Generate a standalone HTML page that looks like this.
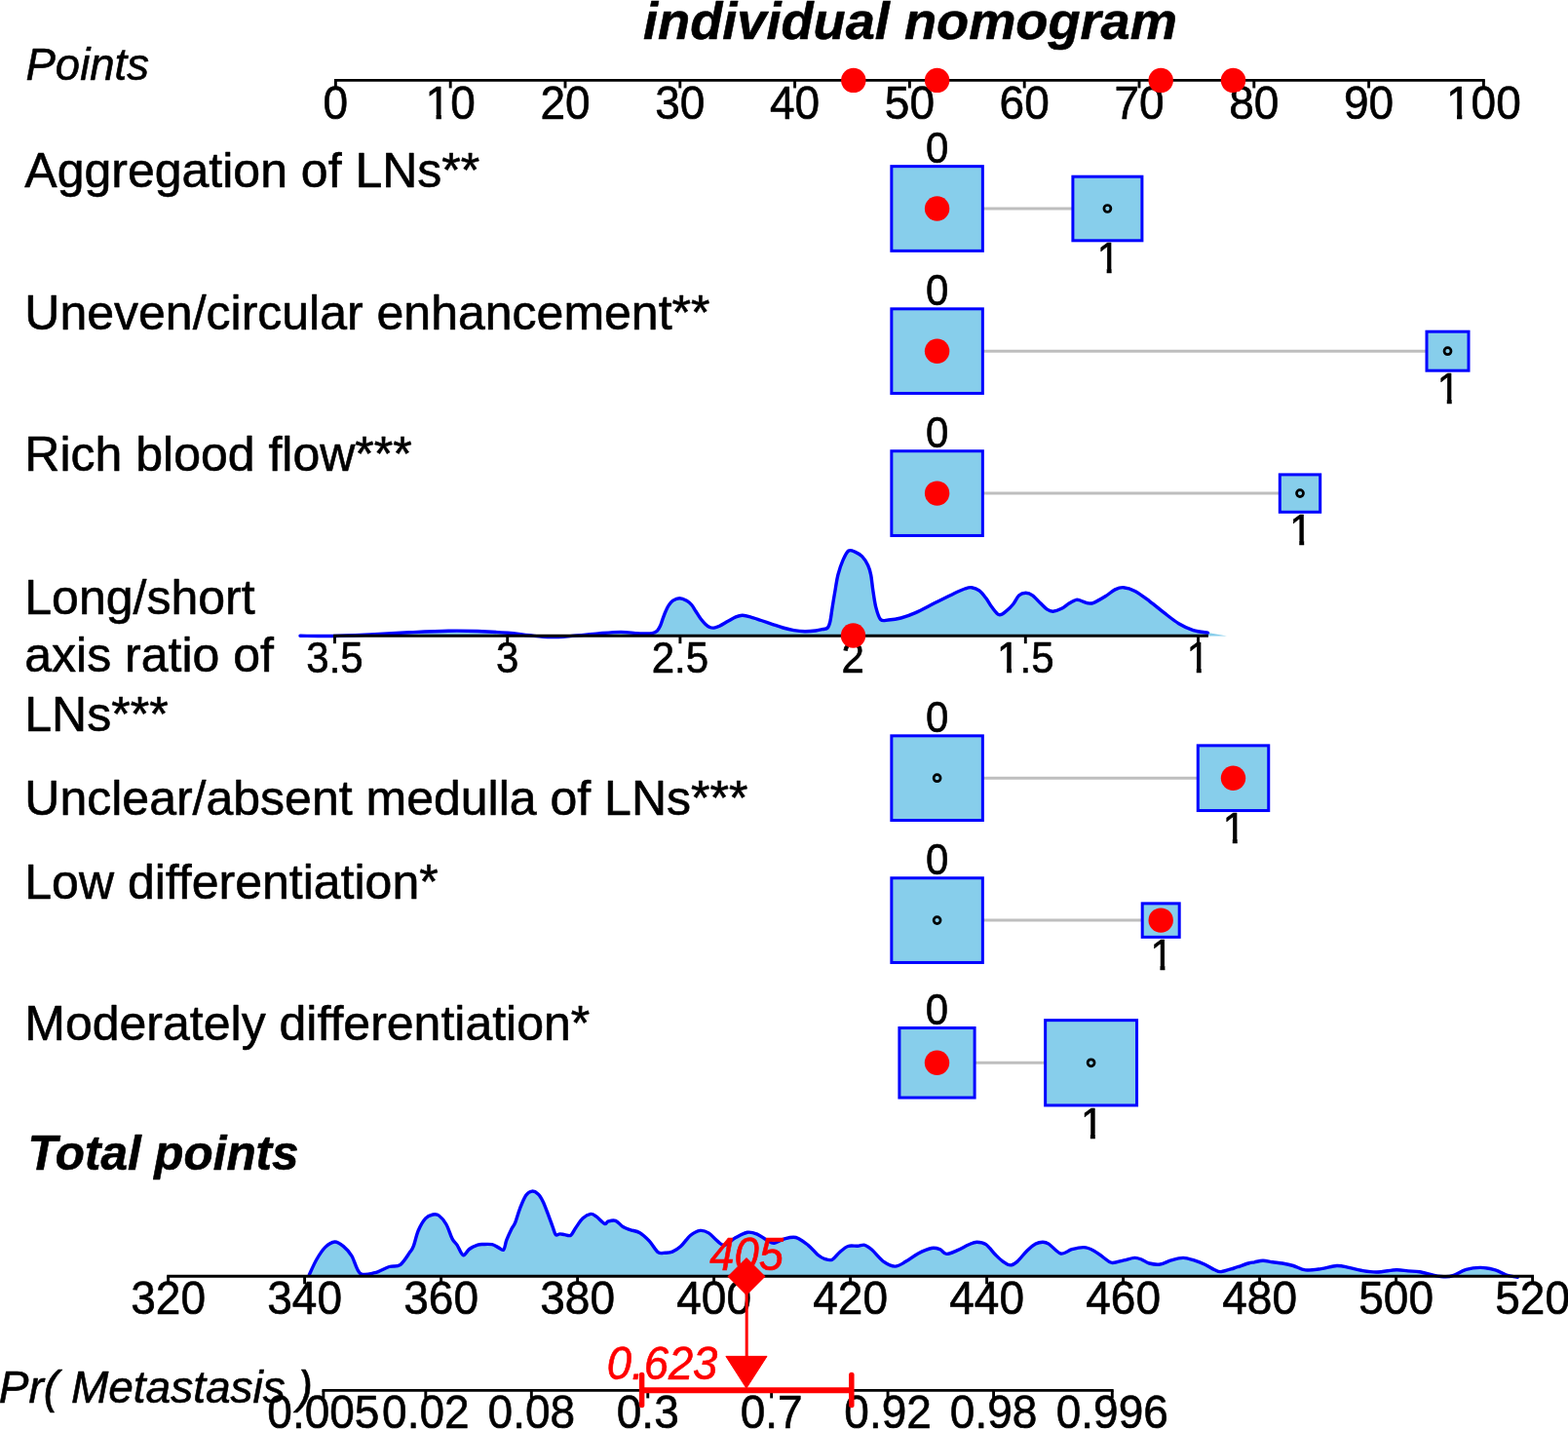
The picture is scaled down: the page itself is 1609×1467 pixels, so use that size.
<!DOCTYPE html>
<html><head><meta charset="utf-8"><title>individual nomogram</title>
<style>
html,body{margin:0;padding:0;background:#fff;}
body{width:1609px;height:1467px;overflow:hidden;}
svg{display:block;}
.t{font-family:"Liberation Sans", Arial, Helvetica, sans-serif;fill:#000;stroke:#000;stroke-width:0.6px;stroke-linejoin:round;}
.tr{font-family:"Liberation Sans", Arial, Helvetica, sans-serif;fill:#f00;stroke:#f00;stroke-width:0.6px;stroke-linejoin:round;}
</style></head><body>
<svg width="1609" height="1467" viewBox="0 0 1609 1467">
<defs><clipPath id="c0" clipPathUnits="userSpaceOnUse"><rect x="431.62" y="66.8" width="61.17" height="50.53"/><rect x="431.62" y="116.83" width="7" height="23.57"/><rect x="461.45" y="116.83" width="31.33" height="23.57"/><rect x="447.58" y="116.83" width="5.27" height="23.57"/></clipPath><clipPath id="c1" clipPathUnits="userSpaceOnUse"><rect x="1479.03" y="66.8" width="86.75" height="50.53"/><rect x="1479.03" y="116.83" width="7" height="23.57"/><rect x="1508.86" y="116.83" width="56.91" height="23.57"/><rect x="1494.99" y="116.83" width="5.27" height="23.57"/></clipPath><clipPath id="c2" clipPathUnits="userSpaceOnUse"><rect x="1120.72" y="230.04" width="33.36" height="46.04"/><rect x="1120.72" y="275.58" width="6.7" height="21.66"/><rect x="1148.53" y="275.58" width="5.55" height="21.66"/><rect x="1135.68" y="275.58" width="4.91" height="21.66"/></clipPath><clipPath id="c3" clipPathUnits="userSpaceOnUse"><rect x="1469.82" y="363.44" width="33.36" height="46.04"/><rect x="1469.82" y="408.98" width="6.7" height="21.66"/><rect x="1497.63" y="408.98" width="5.55" height="21.66"/><rect x="1484.78" y="408.98" width="4.91" height="21.66"/></clipPath><clipPath id="c4" clipPathUnits="userSpaceOnUse"><rect x="1318.32" y="508.54" width="33.36" height="46.04"/><rect x="1318.32" y="554.08" width="6.7" height="21.66"/><rect x="1346.13" y="554.08" width="5.55" height="21.66"/><rect x="1333.28" y="554.08" width="4.91" height="21.66"/></clipPath><clipPath id="c5" clipPathUnits="userSpaceOnUse"><rect x="1249.82" y="814.79" width="33.36" height="46.04"/><rect x="1249.82" y="860.33" width="6.7" height="21.66"/><rect x="1277.63" y="860.33" width="5.55" height="21.66"/><rect x="1264.78" y="860.33" width="4.91" height="21.66"/></clipPath><clipPath id="c6" clipPathUnits="userSpaceOnUse"><rect x="1175.52" y="944.59" width="33.36" height="46.04"/><rect x="1175.52" y="990.13" width="6.7" height="21.66"/><rect x="1203.33" y="990.13" width="5.55" height="21.66"/><rect x="1190.48" y="990.13" width="4.91" height="21.66"/></clipPath><clipPath id="c7" clipPathUnits="userSpaceOnUse"><rect x="1103.92" y="1117.19" width="33.36" height="46.04"/><rect x="1103.92" y="1162.73" width="6.7" height="21.66"/><rect x="1131.73" y="1162.73" width="5.55" height="21.66"/><rect x="1118.88" y="1162.73" width="4.91" height="21.66"/></clipPath><clipPath id="c8" clipPathUnits="userSpaceOnUse"><rect x="1018.11" y="639.1" width="68.39" height="46.04"/><rect x="1018.11" y="684.64" width="6.7" height="21.66"/><rect x="1045.91" y="684.64" width="40.58" height="21.66"/><rect x="1033.07" y="684.64" width="4.91" height="21.66"/></clipPath><clipPath id="c9" clipPathUnits="userSpaceOnUse"><rect x="1212.82" y="639.1" width="33.36" height="46.04"/><rect x="1212.82" y="684.64" width="6.7" height="21.66"/><rect x="1240.63" y="684.64" width="5.55" height="21.66"/><rect x="1227.78" y="684.64" width="4.91" height="21.66"/></clipPath></defs>
<rect width="1609" height="1467" fill="#fff"/>
<text transform="translate(660,40)" font-size="54.2" class="t" font-weight="bold" font-style="italic">individual nomogram</text>
<text transform="translate(26.5,81.7)" font-size="45.5" class="t" font-style="italic">Points</text>
<line x1="343" y1="82.4" x2="1523.8" y2="82.4" stroke="#000" stroke-width="2.9"/>
<line x1="344.4" y1="82.4" x2="344.4" y2="90.4" stroke="#000" stroke-width="2.9"/>
<text transform="translate(344.4,122) scale(1,1.04)" font-size="46" text-anchor="middle" class="t">0</text>
<line x1="462.2" y1="82.4" x2="462.2" y2="90.4" stroke="#000" stroke-width="2.9"/>
<g clip-path="url(#c0)"><text transform="translate(462.2,122) scale(1,1.04)" font-size="46" text-anchor="middle" class="t">10</text></g>
<line x1="580" y1="82.4" x2="580" y2="90.4" stroke="#000" stroke-width="2.9"/>
<text transform="translate(580,122) scale(1,1.04)" font-size="46" text-anchor="middle" class="t">20</text>
<line x1="697.8" y1="82.4" x2="697.8" y2="90.4" stroke="#000" stroke-width="2.9"/>
<text transform="translate(697.8,122) scale(1,1.04)" font-size="46" text-anchor="middle" class="t">30</text>
<line x1="815.6" y1="82.4" x2="815.6" y2="90.4" stroke="#000" stroke-width="2.9"/>
<text transform="translate(815.6,122) scale(1,1.04)" font-size="46" text-anchor="middle" class="t">40</text>
<line x1="933.4" y1="82.4" x2="933.4" y2="90.4" stroke="#000" stroke-width="2.9"/>
<text transform="translate(933.4,122) scale(1,1.04)" font-size="46" text-anchor="middle" class="t">50</text>
<line x1="1051.2" y1="82.4" x2="1051.2" y2="90.4" stroke="#000" stroke-width="2.9"/>
<text transform="translate(1051.2,122) scale(1,1.04)" font-size="46" text-anchor="middle" class="t">60</text>
<line x1="1169" y1="82.4" x2="1169" y2="90.4" stroke="#000" stroke-width="2.9"/>
<text transform="translate(1169,122) scale(1,1.04)" font-size="46" text-anchor="middle" class="t">70</text>
<line x1="1286.8" y1="82.4" x2="1286.8" y2="90.4" stroke="#000" stroke-width="2.9"/>
<text transform="translate(1286.8,122) scale(1,1.04)" font-size="46" text-anchor="middle" class="t">80</text>
<line x1="1404.6" y1="82.4" x2="1404.6" y2="90.4" stroke="#000" stroke-width="2.9"/>
<text transform="translate(1404.6,122) scale(1,1.04)" font-size="46" text-anchor="middle" class="t">90</text>
<line x1="1522.4" y1="82.4" x2="1522.4" y2="90.4" stroke="#000" stroke-width="2.9"/>
<g clip-path="url(#c1)"><text transform="translate(1522.4,122) scale(1,1.04)" font-size="46" text-anchor="middle" class="t">100</text></g>
<text transform="translate(25.3,192.2)" font-size="50" class="t">Aggregation of LNs**</text>
<line x1="961.6" y1="214" x2="1136.4" y2="214" stroke="#BEBEBE" stroke-width="3"/>
<rect x="914.85" y="170.65" width="93.5" height="86.7" fill="#87CEEB" stroke="#0000FF" stroke-width="3.0"/>
<circle cx="961.6" cy="214" r="12.7" fill="#FF0000"/>
<rect x="1100.9" y="181.2" width="71" height="65.6" fill="#87CEEB" stroke="#0000FF" stroke-width="3.0"/>
<circle cx="1136.4" cy="214" r="3.5" fill="none" stroke="#000" stroke-width="2.7"/>
<text transform="translate(961.6,166.65) scale(1,1.04)" font-size="42" text-anchor="middle" class="t">0</text>
<g clip-path="url(#c2)"><text transform="translate(1137.4,280.44) scale(1,1.04)" font-size="42" text-anchor="middle" class="t">1</text></g>
<text transform="translate(25.3,337.6)" font-size="50" class="t">Uneven/circular enhancement**</text>
<line x1="961.6" y1="360.2" x2="1485.5" y2="360.2" stroke="#BEBEBE" stroke-width="3"/>
<rect x="914.85" y="316.85" width="93.5" height="86.7" fill="#87CEEB" stroke="#0000FF" stroke-width="3.0"/>
<circle cx="961.6" cy="360.2" r="12.7" fill="#FF0000"/>
<rect x="1464" y="340.2" width="43" height="40" fill="#87CEEB" stroke="#0000FF" stroke-width="3.0"/>
<circle cx="1485.5" cy="360.2" r="3.5" fill="none" stroke="#000" stroke-width="2.7"/>
<text transform="translate(961.6,312.85) scale(1,1.04)" font-size="42" text-anchor="middle" class="t">0</text>
<g clip-path="url(#c3)"><text transform="translate(1486.5,413.84) scale(1,1.04)" font-size="42" text-anchor="middle" class="t">1</text></g>
<text transform="translate(25.3,483.3)" font-size="50" class="t">Rich blood flow***</text>
<line x1="961.6" y1="506.1" x2="1334" y2="506.1" stroke="#BEBEBE" stroke-width="3"/>
<rect x="914.85" y="462.75" width="93.5" height="86.7" fill="#87CEEB" stroke="#0000FF" stroke-width="3.0"/>
<circle cx="961.6" cy="506.1" r="12.7" fill="#FF0000"/>
<rect x="1313.3" y="486.9" width="41.4" height="38.4" fill="#87CEEB" stroke="#0000FF" stroke-width="3.0"/>
<circle cx="1334" cy="506.1" r="3.5" fill="none" stroke="#000" stroke-width="2.7"/>
<text transform="translate(961.6,458.75) scale(1,1.04)" font-size="42" text-anchor="middle" class="t">0</text>
<g clip-path="url(#c4)"><text transform="translate(1335,558.94) scale(1,1.04)" font-size="42" text-anchor="middle" class="t">1</text></g>
<text transform="translate(25.3,835.6)" font-size="50" class="t">Unclear/absent medulla of LNs***</text>
<line x1="961.6" y1="798.2" x2="1265.5" y2="798.2" stroke="#BEBEBE" stroke-width="3"/>
<rect x="914.85" y="754.85" width="93.5" height="86.7" fill="#87CEEB" stroke="#0000FF" stroke-width="3.0"/>
<circle cx="961.6" cy="798.2" r="3.5" fill="none" stroke="#000" stroke-width="2.7"/>
<rect x="1229.25" y="764.85" width="72.5" height="66.7" fill="#87CEEB" stroke="#0000FF" stroke-width="3.0"/>
<circle cx="1265.5" cy="798.2" r="12.7" fill="#FF0000"/>
<text transform="translate(961.6,750.85) scale(1,1.04)" font-size="42" text-anchor="middle" class="t">0</text>
<g clip-path="url(#c5)"><text transform="translate(1266.5,865.19) scale(1,1.04)" font-size="42" text-anchor="middle" class="t">1</text></g>
<text transform="translate(25.3,922.1)" font-size="50" class="t">Low differentiation*</text>
<line x1="961.6" y1="944.1" x2="1191.2" y2="944.1" stroke="#BEBEBE" stroke-width="3"/>
<rect x="914.85" y="900.75" width="93.5" height="86.7" fill="#87CEEB" stroke="#0000FF" stroke-width="3.0"/>
<circle cx="961.6" cy="944.1" r="3.5" fill="none" stroke="#000" stroke-width="2.7"/>
<rect x="1172.2" y="926.85" width="38" height="34.5" fill="#87CEEB" stroke="#0000FF" stroke-width="3.0"/>
<circle cx="1191.2" cy="944.1" r="12.7" fill="#FF0000"/>
<text transform="translate(961.6,896.75) scale(1,1.04)" font-size="42" text-anchor="middle" class="t">0</text>
<g clip-path="url(#c6)"><text transform="translate(1192.2,994.99) scale(1,1.04)" font-size="42" text-anchor="middle" class="t">1</text></g>
<text transform="translate(25.3,1067)" font-size="50" class="t">Moderately differentiation*</text>
<line x1="961.5" y1="1090.3" x2="1119.6" y2="1090.3" stroke="#BEBEBE" stroke-width="3"/>
<rect x="922.9" y="1054.55" width="77.2" height="71.5" fill="#87CEEB" stroke="#0000FF" stroke-width="3.0"/>
<circle cx="961.5" cy="1090.3" r="12.7" fill="#FF0000"/>
<rect x="1072.65" y="1046.65" width="93.9" height="87.3" fill="#87CEEB" stroke="#0000FF" stroke-width="3.0"/>
<circle cx="1119.6" cy="1090.3" r="3.5" fill="none" stroke="#000" stroke-width="2.7"/>
<text transform="translate(961.5,1050.55) scale(1,1.04)" font-size="42" text-anchor="middle" class="t">0</text>
<g clip-path="url(#c7)"><text transform="translate(1120.6,1167.59) scale(1,1.04)" font-size="42" text-anchor="middle" class="t">1</text></g>
<circle cx="875.8" cy="82.4" r="12.7" fill="#FF0000"/>
<circle cx="961.6" cy="82.4" r="12.7" fill="#FF0000"/>
<circle cx="1191.2" cy="82.4" r="12.7" fill="#FF0000"/>
<circle cx="1265.5" cy="82.4" r="12.7" fill="#FF0000"/>
<text transform="translate(25.3,629.7)" font-size="50" class="t">Long/short</text>
<text transform="translate(25.3,689.3)" font-size="50" class="t">axis ratio of</text>
<text transform="translate(25.3,750)" font-size="50" class="t">LNs***</text>
<path d="M308,652.3 C313.83,652.33 331,652.72 343,652.5 C355,652.28 367.17,651.62 380,651 C392.83,650.38 406.67,649.43 420,648.8 C433.33,648.17 448.33,647.42 460,647.2 C471.67,646.98 479.83,647.15 490,647.5 C500.17,647.85 512.17,648.58 521,649.3 C529.83,650.02 535.67,651.08 543,651.8 C550.33,652.52 557.67,653.5 565,653.6 C572.33,653.7 578.83,653.02 587,652.4 C595.17,651.78 605.67,650.57 614,649.9 C622.33,649.23 630.67,648.45 637,648.4 C643.33,648.35 648.17,649.33 652,649.6 C655.83,649.87 657.12,649.98 660,650 C662.88,650.02 666.92,650.17 669.3,649.7 C671.68,649.23 672.95,648.43 674.3,647.2 C675.65,645.97 676.47,644.27 677.4,642.3 C678.33,640.33 678.97,637.9 679.9,635.4 C680.83,632.9 681.97,629.68 683,627.3 C684.03,624.92 684.85,622.95 686.1,621.1 C687.35,619.25 688.63,617.43 690.5,616.2 C692.37,614.97 694.93,613.7 697.3,613.7 C699.67,613.7 702.63,615.07 704.7,616.2 C706.77,617.33 708.13,618.65 709.7,620.5 C711.27,622.35 712.55,624.92 714.1,627.3 C715.65,629.68 717.35,632.62 719,634.8 C720.65,636.98 722.43,638.95 724,640.4 C725.57,641.85 726.95,642.88 728.4,643.5 C729.85,644.12 731.05,644.3 732.7,644.1 C734.35,643.9 735.92,643.43 738.3,642.3 C740.68,641.17 744.2,638.87 747,637.3 C749.8,635.73 752.65,633.9 755.1,632.9 C757.55,631.9 759.23,631.32 761.7,631.3 C764.17,631.28 766.67,631.93 769.9,632.8 C773.13,633.67 777.37,635.25 781.1,636.5 C784.83,637.75 788.57,639.05 792.3,640.3 C796.03,641.55 799.77,642.95 803.5,644 C807.23,645.05 810.98,645.98 814.7,646.6 C818.42,647.22 822.08,647.63 825.8,647.7 C829.52,647.77 833.88,647.37 837,647 C840.12,646.63 842.45,646 844.5,645.5 C846.55,645 848.07,645.37 849.3,644 C850.53,642.63 851.08,640.9 851.9,637.3 C852.72,633.7 853.32,627.87 854.2,622.4 C855.08,616.93 856.25,609.93 857.2,604.5 C858.15,599.07 858.62,594.73 859.9,589.8 C861.18,584.87 863.08,579.03 864.9,574.9 C866.72,570.77 868.65,566.42 870.8,565 C872.95,563.58 875.48,565.42 877.8,566.4 C880.12,567.38 882.55,568.65 884.7,570.9 C886.85,573.15 889.2,576.75 890.7,579.9 C892.2,583.05 892.87,585.67 893.7,589.8 C894.53,593.93 894.87,599.23 895.7,604.7 C896.53,610.17 897.38,617.47 898.7,622.6 C900.02,627.73 901.45,633.27 903.6,635.5 C905.75,637.73 908.12,636.25 911.6,636 C915.08,635.75 919.87,635.23 924.5,634 C929.13,632.77 933.6,631.17 939.4,628.6 C945.2,626.03 952.67,621.92 959.3,618.6 C965.93,615.28 974.08,611.13 979.2,608.7 C984.32,606.27 987.03,605 990,604 C992.97,603 994.52,602.38 997,602.7 C999.48,603.02 1002.42,604.05 1004.9,605.9 C1007.38,607.75 1009.75,610.98 1011.9,613.8 C1014.05,616.62 1015.57,619.98 1017.8,622.8 C1020.03,625.62 1022.8,630.05 1025.3,630.7 C1027.8,631.35 1030.4,628.52 1032.8,626.7 C1035.2,624.88 1037.55,622.45 1039.7,619.8 C1041.85,617.15 1043.55,612.72 1045.7,610.8 C1047.85,608.88 1050.28,608.3 1052.6,608.3 C1054.92,608.3 1057.1,609.05 1059.6,610.8 C1062.1,612.55 1065.12,616.4 1067.6,618.8 C1070.08,621.2 1072.35,623.8 1074.5,625.2 C1076.65,626.6 1078.02,627.35 1080.5,627.2 C1082.98,627.05 1086.58,625.7 1089.4,624.3 C1092.22,622.9 1094.9,620.3 1097.4,618.8 C1099.9,617.3 1102.42,615.72 1104.4,615.3 C1106.38,614.88 1107.32,615.72 1109.3,616.3 C1111.28,616.88 1114.13,618.47 1116.3,618.8 C1118.47,619.13 1119.32,619.47 1122.3,618.3 C1125.28,617.13 1130.57,614.03 1134.2,611.8 C1137.83,609.57 1140.98,606.42 1144.1,604.9 C1147.22,603.38 1149.45,602.45 1152.9,602.7 C1156.35,602.95 1160.33,604.05 1164.8,606.4 C1169.27,608.75 1174.73,613.08 1179.7,616.8 C1184.67,620.52 1189.62,624.88 1194.6,628.7 C1199.58,632.52 1204.62,636.72 1209.6,639.7 C1214.58,642.68 1219.53,645.03 1224.5,646.6 C1229.47,648.17 1236.92,648.68 1239.4,649.1 L1259,652.5 L1239.4,652.5 L308,652.5 Z" fill="#87CEEB" stroke="none"/>
<path d="M308,652.3 C313.83,652.33 331,652.72 343,652.5 C355,652.28 367.17,651.62 380,651 C392.83,650.38 406.67,649.43 420,648.8 C433.33,648.17 448.33,647.42 460,647.2 C471.67,646.98 479.83,647.15 490,647.5 C500.17,647.85 512.17,648.58 521,649.3 C529.83,650.02 535.67,651.08 543,651.8 C550.33,652.52 557.67,653.5 565,653.6 C572.33,653.7 578.83,653.02 587,652.4 C595.17,651.78 605.67,650.57 614,649.9 C622.33,649.23 630.67,648.45 637,648.4 C643.33,648.35 648.17,649.33 652,649.6 C655.83,649.87 657.12,649.98 660,650 C662.88,650.02 666.92,650.17 669.3,649.7 C671.68,649.23 672.95,648.43 674.3,647.2 C675.65,645.97 676.47,644.27 677.4,642.3 C678.33,640.33 678.97,637.9 679.9,635.4 C680.83,632.9 681.97,629.68 683,627.3 C684.03,624.92 684.85,622.95 686.1,621.1 C687.35,619.25 688.63,617.43 690.5,616.2 C692.37,614.97 694.93,613.7 697.3,613.7 C699.67,613.7 702.63,615.07 704.7,616.2 C706.77,617.33 708.13,618.65 709.7,620.5 C711.27,622.35 712.55,624.92 714.1,627.3 C715.65,629.68 717.35,632.62 719,634.8 C720.65,636.98 722.43,638.95 724,640.4 C725.57,641.85 726.95,642.88 728.4,643.5 C729.85,644.12 731.05,644.3 732.7,644.1 C734.35,643.9 735.92,643.43 738.3,642.3 C740.68,641.17 744.2,638.87 747,637.3 C749.8,635.73 752.65,633.9 755.1,632.9 C757.55,631.9 759.23,631.32 761.7,631.3 C764.17,631.28 766.67,631.93 769.9,632.8 C773.13,633.67 777.37,635.25 781.1,636.5 C784.83,637.75 788.57,639.05 792.3,640.3 C796.03,641.55 799.77,642.95 803.5,644 C807.23,645.05 810.98,645.98 814.7,646.6 C818.42,647.22 822.08,647.63 825.8,647.7 C829.52,647.77 833.88,647.37 837,647 C840.12,646.63 842.45,646 844.5,645.5 C846.55,645 848.07,645.37 849.3,644 C850.53,642.63 851.08,640.9 851.9,637.3 C852.72,633.7 853.32,627.87 854.2,622.4 C855.08,616.93 856.25,609.93 857.2,604.5 C858.15,599.07 858.62,594.73 859.9,589.8 C861.18,584.87 863.08,579.03 864.9,574.9 C866.72,570.77 868.65,566.42 870.8,565 C872.95,563.58 875.48,565.42 877.8,566.4 C880.12,567.38 882.55,568.65 884.7,570.9 C886.85,573.15 889.2,576.75 890.7,579.9 C892.2,583.05 892.87,585.67 893.7,589.8 C894.53,593.93 894.87,599.23 895.7,604.7 C896.53,610.17 897.38,617.47 898.7,622.6 C900.02,627.73 901.45,633.27 903.6,635.5 C905.75,637.73 908.12,636.25 911.6,636 C915.08,635.75 919.87,635.23 924.5,634 C929.13,632.77 933.6,631.17 939.4,628.6 C945.2,626.03 952.67,621.92 959.3,618.6 C965.93,615.28 974.08,611.13 979.2,608.7 C984.32,606.27 987.03,605 990,604 C992.97,603 994.52,602.38 997,602.7 C999.48,603.02 1002.42,604.05 1004.9,605.9 C1007.38,607.75 1009.75,610.98 1011.9,613.8 C1014.05,616.62 1015.57,619.98 1017.8,622.8 C1020.03,625.62 1022.8,630.05 1025.3,630.7 C1027.8,631.35 1030.4,628.52 1032.8,626.7 C1035.2,624.88 1037.55,622.45 1039.7,619.8 C1041.85,617.15 1043.55,612.72 1045.7,610.8 C1047.85,608.88 1050.28,608.3 1052.6,608.3 C1054.92,608.3 1057.1,609.05 1059.6,610.8 C1062.1,612.55 1065.12,616.4 1067.6,618.8 C1070.08,621.2 1072.35,623.8 1074.5,625.2 C1076.65,626.6 1078.02,627.35 1080.5,627.2 C1082.98,627.05 1086.58,625.7 1089.4,624.3 C1092.22,622.9 1094.9,620.3 1097.4,618.8 C1099.9,617.3 1102.42,615.72 1104.4,615.3 C1106.38,614.88 1107.32,615.72 1109.3,616.3 C1111.28,616.88 1114.13,618.47 1116.3,618.8 C1118.47,619.13 1119.32,619.47 1122.3,618.3 C1125.28,617.13 1130.57,614.03 1134.2,611.8 C1137.83,609.57 1140.98,606.42 1144.1,604.9 C1147.22,603.38 1149.45,602.45 1152.9,602.7 C1156.35,602.95 1160.33,604.05 1164.8,606.4 C1169.27,608.75 1174.73,613.08 1179.7,616.8 C1184.67,620.52 1189.62,624.88 1194.6,628.7 C1199.58,632.52 1204.62,636.72 1209.6,639.7 C1214.58,642.68 1219.53,645.03 1224.5,646.6 C1229.47,648.17 1236.92,648.68 1239.4,649.1" fill="none" stroke="#0000FF" stroke-width="3.4" stroke-linejoin="round" stroke-linecap="round"/>
<line x1="342.1" y1="652.2" x2="1239.9" y2="652.2" stroke="#000" stroke-width="2.9"/>
<line x1="343.5" y1="652.2" x2="343.5" y2="660.2" stroke="#000" stroke-width="2.9"/>
<text transform="translate(343.5,689.5) scale(1,1.04)" font-size="42" text-anchor="middle" class="t">3.5</text>
<line x1="520.7" y1="652.2" x2="520.7" y2="660.2" stroke="#000" stroke-width="2.9"/>
<text transform="translate(520.7,689.5) scale(1,1.04)" font-size="42" text-anchor="middle" class="t">3</text>
<line x1="697.9" y1="652.2" x2="697.9" y2="660.2" stroke="#000" stroke-width="2.9"/>
<text transform="translate(697.9,689.5) scale(1,1.04)" font-size="42" text-anchor="middle" class="t">2.5</text>
<line x1="875.1" y1="652.2" x2="875.1" y2="660.2" stroke="#000" stroke-width="2.9"/>
<text transform="translate(875.1,689.5) scale(1,1.04)" font-size="42" text-anchor="middle" class="t">2</text>
<line x1="1052.3" y1="652.2" x2="1052.3" y2="660.2" stroke="#000" stroke-width="2.9"/>
<g clip-path="url(#c8)"><text transform="translate(1052.3,689.5) scale(1,1.04)" font-size="42" text-anchor="middle" class="t">1.5</text></g>
<line x1="1229.5" y1="652.2" x2="1229.5" y2="660.2" stroke="#000" stroke-width="2.9"/>
<g clip-path="url(#c9)"><text transform="translate(1229.5,689.5) scale(1,1.04)" font-size="42" text-anchor="middle" class="t">1</text></g>
<circle cx="875.5" cy="652" r="12.7" fill="#FF0000"/>
<text transform="translate(28.5,1200)" font-size="49.4" class="t" font-weight="bold" font-style="italic">Total points</text>
<path d="M317.4,1307.6 C318.65,1305 322.2,1296.67 324.9,1292 C327.6,1287.33 330.5,1282.6 333.6,1279.6 C336.7,1276.6 340.4,1274.2 343.5,1274 C346.6,1273.8 349.3,1276.02 352.2,1278.4 C355.1,1280.78 358,1283.65 360.9,1288.3 C363.8,1292.95 365.67,1303.4 369.6,1306.3 C373.53,1309.2 379.53,1306.83 384.5,1305.7 C389.47,1304.57 395.05,1300.85 399.4,1299.5 C403.75,1298.15 407.07,1300.08 410.6,1297.6 C414.13,1295.12 418.32,1287.8 420.6,1284.6 C422.88,1281.4 422.85,1282.13 424.3,1278.4 C425.75,1274.67 427.23,1266.97 429.3,1262.2 C431.37,1257.43 434.22,1252.5 436.7,1249.8 C439.18,1247.1 441.92,1246.47 444.2,1246 C446.48,1245.53 448.12,1245.33 450.4,1247 C452.68,1248.67 455.62,1252.02 457.9,1256 C460.18,1259.98 462.25,1267.38 464.1,1270.9 C465.95,1274.42 467.13,1274.3 469,1277.1 C470.87,1279.9 473.22,1286.97 475.3,1287.7 C477.38,1288.43 479.02,1283.27 481.5,1281.5 C483.98,1279.73 487.75,1277.93 490.2,1277.1 C492.65,1276.27 493.75,1276.57 496.2,1276.5 C498.65,1276.43 502.42,1276.18 504.9,1276.7 C507.38,1277.22 509.13,1278.7 511.1,1279.6 C513.07,1280.5 515.25,1283.33 516.7,1282.1 C518.15,1280.87 518.45,1275.72 519.8,1272.2 C521.15,1268.68 523.35,1263.92 524.8,1261 C526.25,1258.08 527.05,1258.23 528.5,1254.7 C529.95,1251.17 531.63,1244.55 533.5,1239.8 C535.37,1235.05 537.63,1229.15 539.7,1226.2 C541.77,1223.25 543.82,1222.32 545.9,1222.1 C547.98,1221.88 550.33,1223.18 552.2,1224.9 C554.07,1226.62 555.45,1229.08 557.1,1232.4 C558.75,1235.72 560.43,1240.45 562.1,1244.8 C563.77,1249.15 565.75,1254.87 567.1,1258.5 C568.45,1262.13 568.97,1265.37 570.2,1266.6 C571.43,1267.83 572.95,1265.9 574.5,1265.9 C576.05,1265.9 577.63,1266.38 579.5,1266.6 C581.37,1266.82 583.83,1268.35 585.7,1267.2 C587.57,1266.05 588.63,1262.6 590.7,1259.7 C592.77,1256.8 595.52,1252.18 598.1,1249.8 C600.68,1247.42 603.92,1245.72 606.2,1245.4 C608.48,1245.08 609.42,1246.23 611.8,1247.9 C614.18,1249.57 618.43,1254.57 620.5,1255.4 C622.57,1256.23 622.33,1253.42 624.2,1252.9 C626.07,1252.38 629.2,1251.37 631.7,1252.3 C634.2,1253.23 636.72,1256.95 639.2,1258.5 C641.68,1260.05 643.7,1260.57 646.6,1261.6 C649.5,1262.63 653.28,1262.73 656.6,1264.7 C659.92,1266.67 663.4,1270.08 666.5,1273.4 C669.6,1276.72 672.5,1282.63 675.2,1284.6 C677.9,1286.57 680.23,1285.28 682.7,1285.2 C685.17,1285.12 687.35,1285.22 690,1284.1 C692.65,1282.98 695.5,1281.3 698.6,1278.5 C701.7,1275.7 705.28,1269.98 708.6,1267.3 C711.92,1264.62 715.4,1262.8 718.5,1262.4 C721.6,1262 724.3,1263.15 727.2,1264.9 C730.1,1266.65 733.2,1270.83 735.9,1272.9 C738.6,1274.97 740.28,1277.82 743.4,1277.3 C746.52,1276.78 750.67,1271.98 754.6,1269.8 C758.53,1267.62 763.27,1264.82 767,1264.2 C770.73,1263.58 773.68,1264.75 777,1266.1 C780.32,1267.45 784,1270.75 786.9,1272.3 C789.8,1273.85 791.5,1275.6 794.4,1275.4 C797.3,1275.2 800.58,1272.08 804.3,1271.1 C808.02,1270.12 812.55,1268.47 816.7,1269.5 C820.85,1270.53 825.47,1274.35 829.2,1277.3 C832.93,1280.25 836.2,1284.82 839.1,1287.2 C842,1289.58 844.12,1290.77 846.6,1291.6 C849.08,1292.43 851.52,1293.35 854,1292.2 C856.48,1291.05 858.8,1286.98 861.5,1284.7 C864.2,1282.42 867.12,1279.57 870.2,1278.5 C873.28,1277.43 877.13,1278.5 880,1278.3 C882.87,1278.1 884.92,1276.63 887.4,1277.3 C889.88,1277.97 891.58,1279.4 894.9,1282.3 C898.22,1285.2 903.37,1291.9 907.3,1294.7 C911.23,1297.5 914.77,1299.2 918.5,1299.1 C922.23,1299 925.77,1296.28 929.7,1294.1 C933.63,1291.92 937.75,1288.27 942.1,1286 C946.45,1283.73 952.07,1281.22 955.8,1280.5 C959.53,1279.78 961.92,1280.72 964.5,1281.7 C967.08,1282.68 968.4,1286.2 971.3,1286.4 C974.2,1286.6 978.07,1284.52 981.9,1282.9 C985.73,1281.28 990.88,1278.15 994.3,1276.7 C997.72,1275.25 999.5,1274.2 1002.4,1274.2 C1005.3,1274.2 1008.5,1274.52 1011.7,1276.7 C1014.9,1278.88 1018.7,1284.4 1021.6,1287.3 C1024.5,1290.2 1026.6,1292.33 1029.1,1294.1 C1031.6,1295.87 1034.12,1297.9 1036.6,1297.9 C1039.08,1297.9 1041.1,1296.6 1044,1294.1 C1046.9,1291.6 1050.88,1285.9 1054,1282.9 C1057.12,1279.9 1060.05,1277.55 1062.7,1276.1 C1065.35,1274.65 1067.65,1274.2 1069.9,1274.2 C1072.15,1274.2 1073.08,1274.13 1076.2,1276.1 C1079.32,1278.07 1084.67,1285.07 1088.6,1286 C1092.53,1286.93 1095.87,1282.77 1099.8,1281.7 C1103.73,1280.63 1108.47,1279.4 1112.2,1279.6 C1115.93,1279.8 1118.88,1281.2 1122.2,1282.9 C1125.52,1284.6 1129,1287.72 1132.1,1289.8 C1135.2,1291.88 1137.28,1294.88 1140.8,1295.4 C1144.32,1295.92 1149.27,1293.73 1153.2,1292.9 C1157.13,1292.07 1161.28,1290.5 1164.4,1290.4 C1167.52,1290.3 1169.42,1291.37 1171.9,1292.3 C1174.38,1293.23 1176.2,1295.22 1179.3,1296 C1182.4,1296.78 1186.77,1297.52 1190.5,1297 C1194.23,1296.48 1197.77,1294 1201.7,1292.9 C1205.63,1291.8 1210.17,1290.4 1214.1,1290.4 C1218.03,1290.4 1221.57,1291.77 1225.3,1292.9 C1229.03,1294.03 1232.97,1295.55 1236.5,1297.2 C1240.03,1298.85 1243.75,1301.57 1246.5,1302.8 C1249.25,1304.03 1249.72,1304.9 1253,1304.6 C1256.28,1304.3 1261.52,1302.43 1266.2,1301 C1270.88,1299.57 1277.58,1297.03 1281.1,1296 C1284.62,1294.97 1284.82,1295.25 1287.3,1294.8 C1289.78,1294.35 1292.9,1293.3 1296,1293.3 C1299.1,1293.3 1302.58,1294.35 1305.9,1294.8 C1309.22,1295.25 1312.37,1295.38 1315.9,1296 C1319.43,1296.62 1323.17,1297.35 1327.1,1298.5 C1331.03,1299.65 1334.73,1302.38 1339.5,1302.9 C1344.27,1303.42 1350.32,1302.33 1355.7,1301.6 C1361.08,1300.87 1367.05,1298.7 1371.8,1298.5 C1376.55,1298.3 1380.05,1299.6 1384.2,1300.4 C1388.35,1301.2 1391.93,1302.53 1396.7,1303.3 C1401.47,1304.07 1406.77,1305.1 1412.8,1305 C1418.83,1304.9 1427.55,1302.88 1432.9,1302.7 C1438.25,1302.52 1440.92,1303.57 1444.9,1303.9 C1448.88,1304.23 1452.33,1303.97 1456.8,1304.7 C1461.27,1305.43 1467.23,1307.45 1471.7,1308.3 C1476.17,1309.15 1480.28,1309.8 1483.6,1309.8 C1486.92,1309.8 1488.12,1309.53 1491.6,1308.3 C1495.08,1307.07 1499.87,1303.72 1504.5,1302.4 C1509.13,1301.08 1514.42,1300.32 1519.4,1300.4 C1524.38,1300.48 1530.08,1301.67 1534.4,1302.9 C1538.72,1304.13 1541.5,1306.57 1545.3,1307.8 C1549.1,1309.03 1555.22,1309.88 1557.2,1310.3 L1557.2,1309.5 L317.4,1309.5 Z" fill="#87CEEB" stroke="none"/>
<path d="M317.4,1307.6 C318.65,1305 322.2,1296.67 324.9,1292 C327.6,1287.33 330.5,1282.6 333.6,1279.6 C336.7,1276.6 340.4,1274.2 343.5,1274 C346.6,1273.8 349.3,1276.02 352.2,1278.4 C355.1,1280.78 358,1283.65 360.9,1288.3 C363.8,1292.95 365.67,1303.4 369.6,1306.3 C373.53,1309.2 379.53,1306.83 384.5,1305.7 C389.47,1304.57 395.05,1300.85 399.4,1299.5 C403.75,1298.15 407.07,1300.08 410.6,1297.6 C414.13,1295.12 418.32,1287.8 420.6,1284.6 C422.88,1281.4 422.85,1282.13 424.3,1278.4 C425.75,1274.67 427.23,1266.97 429.3,1262.2 C431.37,1257.43 434.22,1252.5 436.7,1249.8 C439.18,1247.1 441.92,1246.47 444.2,1246 C446.48,1245.53 448.12,1245.33 450.4,1247 C452.68,1248.67 455.62,1252.02 457.9,1256 C460.18,1259.98 462.25,1267.38 464.1,1270.9 C465.95,1274.42 467.13,1274.3 469,1277.1 C470.87,1279.9 473.22,1286.97 475.3,1287.7 C477.38,1288.43 479.02,1283.27 481.5,1281.5 C483.98,1279.73 487.75,1277.93 490.2,1277.1 C492.65,1276.27 493.75,1276.57 496.2,1276.5 C498.65,1276.43 502.42,1276.18 504.9,1276.7 C507.38,1277.22 509.13,1278.7 511.1,1279.6 C513.07,1280.5 515.25,1283.33 516.7,1282.1 C518.15,1280.87 518.45,1275.72 519.8,1272.2 C521.15,1268.68 523.35,1263.92 524.8,1261 C526.25,1258.08 527.05,1258.23 528.5,1254.7 C529.95,1251.17 531.63,1244.55 533.5,1239.8 C535.37,1235.05 537.63,1229.15 539.7,1226.2 C541.77,1223.25 543.82,1222.32 545.9,1222.1 C547.98,1221.88 550.33,1223.18 552.2,1224.9 C554.07,1226.62 555.45,1229.08 557.1,1232.4 C558.75,1235.72 560.43,1240.45 562.1,1244.8 C563.77,1249.15 565.75,1254.87 567.1,1258.5 C568.45,1262.13 568.97,1265.37 570.2,1266.6 C571.43,1267.83 572.95,1265.9 574.5,1265.9 C576.05,1265.9 577.63,1266.38 579.5,1266.6 C581.37,1266.82 583.83,1268.35 585.7,1267.2 C587.57,1266.05 588.63,1262.6 590.7,1259.7 C592.77,1256.8 595.52,1252.18 598.1,1249.8 C600.68,1247.42 603.92,1245.72 606.2,1245.4 C608.48,1245.08 609.42,1246.23 611.8,1247.9 C614.18,1249.57 618.43,1254.57 620.5,1255.4 C622.57,1256.23 622.33,1253.42 624.2,1252.9 C626.07,1252.38 629.2,1251.37 631.7,1252.3 C634.2,1253.23 636.72,1256.95 639.2,1258.5 C641.68,1260.05 643.7,1260.57 646.6,1261.6 C649.5,1262.63 653.28,1262.73 656.6,1264.7 C659.92,1266.67 663.4,1270.08 666.5,1273.4 C669.6,1276.72 672.5,1282.63 675.2,1284.6 C677.9,1286.57 680.23,1285.28 682.7,1285.2 C685.17,1285.12 687.35,1285.22 690,1284.1 C692.65,1282.98 695.5,1281.3 698.6,1278.5 C701.7,1275.7 705.28,1269.98 708.6,1267.3 C711.92,1264.62 715.4,1262.8 718.5,1262.4 C721.6,1262 724.3,1263.15 727.2,1264.9 C730.1,1266.65 733.2,1270.83 735.9,1272.9 C738.6,1274.97 740.28,1277.82 743.4,1277.3 C746.52,1276.78 750.67,1271.98 754.6,1269.8 C758.53,1267.62 763.27,1264.82 767,1264.2 C770.73,1263.58 773.68,1264.75 777,1266.1 C780.32,1267.45 784,1270.75 786.9,1272.3 C789.8,1273.85 791.5,1275.6 794.4,1275.4 C797.3,1275.2 800.58,1272.08 804.3,1271.1 C808.02,1270.12 812.55,1268.47 816.7,1269.5 C820.85,1270.53 825.47,1274.35 829.2,1277.3 C832.93,1280.25 836.2,1284.82 839.1,1287.2 C842,1289.58 844.12,1290.77 846.6,1291.6 C849.08,1292.43 851.52,1293.35 854,1292.2 C856.48,1291.05 858.8,1286.98 861.5,1284.7 C864.2,1282.42 867.12,1279.57 870.2,1278.5 C873.28,1277.43 877.13,1278.5 880,1278.3 C882.87,1278.1 884.92,1276.63 887.4,1277.3 C889.88,1277.97 891.58,1279.4 894.9,1282.3 C898.22,1285.2 903.37,1291.9 907.3,1294.7 C911.23,1297.5 914.77,1299.2 918.5,1299.1 C922.23,1299 925.77,1296.28 929.7,1294.1 C933.63,1291.92 937.75,1288.27 942.1,1286 C946.45,1283.73 952.07,1281.22 955.8,1280.5 C959.53,1279.78 961.92,1280.72 964.5,1281.7 C967.08,1282.68 968.4,1286.2 971.3,1286.4 C974.2,1286.6 978.07,1284.52 981.9,1282.9 C985.73,1281.28 990.88,1278.15 994.3,1276.7 C997.72,1275.25 999.5,1274.2 1002.4,1274.2 C1005.3,1274.2 1008.5,1274.52 1011.7,1276.7 C1014.9,1278.88 1018.7,1284.4 1021.6,1287.3 C1024.5,1290.2 1026.6,1292.33 1029.1,1294.1 C1031.6,1295.87 1034.12,1297.9 1036.6,1297.9 C1039.08,1297.9 1041.1,1296.6 1044,1294.1 C1046.9,1291.6 1050.88,1285.9 1054,1282.9 C1057.12,1279.9 1060.05,1277.55 1062.7,1276.1 C1065.35,1274.65 1067.65,1274.2 1069.9,1274.2 C1072.15,1274.2 1073.08,1274.13 1076.2,1276.1 C1079.32,1278.07 1084.67,1285.07 1088.6,1286 C1092.53,1286.93 1095.87,1282.77 1099.8,1281.7 C1103.73,1280.63 1108.47,1279.4 1112.2,1279.6 C1115.93,1279.8 1118.88,1281.2 1122.2,1282.9 C1125.52,1284.6 1129,1287.72 1132.1,1289.8 C1135.2,1291.88 1137.28,1294.88 1140.8,1295.4 C1144.32,1295.92 1149.27,1293.73 1153.2,1292.9 C1157.13,1292.07 1161.28,1290.5 1164.4,1290.4 C1167.52,1290.3 1169.42,1291.37 1171.9,1292.3 C1174.38,1293.23 1176.2,1295.22 1179.3,1296 C1182.4,1296.78 1186.77,1297.52 1190.5,1297 C1194.23,1296.48 1197.77,1294 1201.7,1292.9 C1205.63,1291.8 1210.17,1290.4 1214.1,1290.4 C1218.03,1290.4 1221.57,1291.77 1225.3,1292.9 C1229.03,1294.03 1232.97,1295.55 1236.5,1297.2 C1240.03,1298.85 1243.75,1301.57 1246.5,1302.8 C1249.25,1304.03 1249.72,1304.9 1253,1304.6 C1256.28,1304.3 1261.52,1302.43 1266.2,1301 C1270.88,1299.57 1277.58,1297.03 1281.1,1296 C1284.62,1294.97 1284.82,1295.25 1287.3,1294.8 C1289.78,1294.35 1292.9,1293.3 1296,1293.3 C1299.1,1293.3 1302.58,1294.35 1305.9,1294.8 C1309.22,1295.25 1312.37,1295.38 1315.9,1296 C1319.43,1296.62 1323.17,1297.35 1327.1,1298.5 C1331.03,1299.65 1334.73,1302.38 1339.5,1302.9 C1344.27,1303.42 1350.32,1302.33 1355.7,1301.6 C1361.08,1300.87 1367.05,1298.7 1371.8,1298.5 C1376.55,1298.3 1380.05,1299.6 1384.2,1300.4 C1388.35,1301.2 1391.93,1302.53 1396.7,1303.3 C1401.47,1304.07 1406.77,1305.1 1412.8,1305 C1418.83,1304.9 1427.55,1302.88 1432.9,1302.7 C1438.25,1302.52 1440.92,1303.57 1444.9,1303.9 C1448.88,1304.23 1452.33,1303.97 1456.8,1304.7 C1461.27,1305.43 1467.23,1307.45 1471.7,1308.3 C1476.17,1309.15 1480.28,1309.8 1483.6,1309.8 C1486.92,1309.8 1488.12,1309.53 1491.6,1308.3 C1495.08,1307.07 1499.87,1303.72 1504.5,1302.4 C1509.13,1301.08 1514.42,1300.32 1519.4,1300.4 C1524.38,1300.48 1530.08,1301.67 1534.4,1302.9 C1538.72,1304.13 1541.5,1306.57 1545.3,1307.8 C1549.1,1309.03 1555.22,1309.88 1557.2,1310.3" fill="none" stroke="#0000FF" stroke-width="3.4" stroke-linejoin="round" stroke-linecap="round"/>
<line x1="171.2" y1="1309.3" x2="1574" y2="1309.3" stroke="#000" stroke-width="2.9"/>
<line x1="172.6" y1="1309.3" x2="172.6" y2="1317.3" stroke="#000" stroke-width="2.9"/>
<text transform="translate(172.6,1348) scale(1,1.04)" font-size="46" text-anchor="middle" class="t">320</text>
<line x1="312.6" y1="1309.3" x2="312.6" y2="1317.3" stroke="#000" stroke-width="2.9"/>
<text transform="translate(312.6,1348) scale(1,1.04)" font-size="46" text-anchor="middle" class="t">340</text>
<line x1="452.6" y1="1309.3" x2="452.6" y2="1317.3" stroke="#000" stroke-width="2.9"/>
<text transform="translate(452.6,1348) scale(1,1.04)" font-size="46" text-anchor="middle" class="t">360</text>
<line x1="592.6" y1="1309.3" x2="592.6" y2="1317.3" stroke="#000" stroke-width="2.9"/>
<text transform="translate(592.6,1348) scale(1,1.04)" font-size="46" text-anchor="middle" class="t">380</text>
<line x1="732.6" y1="1309.3" x2="732.6" y2="1317.3" stroke="#000" stroke-width="2.9"/>
<text transform="translate(732.6,1348) scale(1,1.04)" font-size="46" text-anchor="middle" class="t">400</text>
<line x1="872.6" y1="1309.3" x2="872.6" y2="1317.3" stroke="#000" stroke-width="2.9"/>
<text transform="translate(872.6,1348) scale(1,1.04)" font-size="46" text-anchor="middle" class="t">420</text>
<line x1="1012.6" y1="1309.3" x2="1012.6" y2="1317.3" stroke="#000" stroke-width="2.9"/>
<text transform="translate(1012.6,1348) scale(1,1.04)" font-size="46" text-anchor="middle" class="t">440</text>
<line x1="1152.6" y1="1309.3" x2="1152.6" y2="1317.3" stroke="#000" stroke-width="2.9"/>
<text transform="translate(1152.6,1348) scale(1,1.04)" font-size="46" text-anchor="middle" class="t">460</text>
<line x1="1292.6" y1="1309.3" x2="1292.6" y2="1317.3" stroke="#000" stroke-width="2.9"/>
<text transform="translate(1292.6,1348) scale(1,1.04)" font-size="46" text-anchor="middle" class="t">480</text>
<line x1="1432.6" y1="1309.3" x2="1432.6" y2="1317.3" stroke="#000" stroke-width="2.9"/>
<text transform="translate(1432.6,1348) scale(1,1.04)" font-size="46" text-anchor="middle" class="t">500</text>
<line x1="1572.6" y1="1309.3" x2="1572.6" y2="1317.3" stroke="#000" stroke-width="2.9"/>
<text transform="translate(1572.6,1348) scale(1,1.04)" font-size="46" text-anchor="middle" class="t">520</text>
<text transform="translate(-1.2,1438.5)" font-size="46" class="t" font-style="italic">Pr( Metastasis )</text>
<line x1="330.49" y1="1426.4" x2="1142.69" y2="1426.4" stroke="#000" stroke-width="2.9"/>
<line x1="331.89" y1="1426.4" x2="331.89" y2="1434.4" stroke="#000" stroke-width="2.9"/>
<text transform="translate(331.89,1465.2) scale(1,1.04)" font-size="46" text-anchor="middle" class="t">0.005</text>
<line x1="436.82" y1="1426.4" x2="436.82" y2="1434.4" stroke="#000" stroke-width="2.9"/>
<text transform="translate(436.82,1465.2) scale(1,1.04)" font-size="46" text-anchor="middle" class="t">0.02</text>
<line x1="545.34" y1="1426.4" x2="545.34" y2="1434.4" stroke="#000" stroke-width="2.9"/>
<text transform="translate(545.34,1465.2) scale(1,1.04)" font-size="46" text-anchor="middle" class="t">0.08</text>
<line x1="664.76" y1="1426.4" x2="664.76" y2="1434.4" stroke="#000" stroke-width="2.9"/>
<text transform="translate(664.76,1465.2) scale(1,1.04)" font-size="46" text-anchor="middle" class="t">0.3</text>
<line x1="791.64" y1="1426.4" x2="791.64" y2="1434.4" stroke="#000" stroke-width="2.9"/>
<text transform="translate(791.64,1465.2) scale(1,1.04)" font-size="46" text-anchor="middle" class="t">0.7</text>
<line x1="911.06" y1="1426.4" x2="911.06" y2="1434.4" stroke="#000" stroke-width="2.9"/>
<text transform="translate(911.06,1465.2) scale(1,1.04)" font-size="46" text-anchor="middle" class="t">0.92</text>
<line x1="1019.58" y1="1426.4" x2="1019.58" y2="1434.4" stroke="#000" stroke-width="2.9"/>
<text transform="translate(1019.58,1465.2) scale(1,1.04)" font-size="46" text-anchor="middle" class="t">0.98</text>
<line x1="1141.29" y1="1426.4" x2="1141.29" y2="1434.4" stroke="#000" stroke-width="2.9"/>
<text transform="translate(1141.29,1465.2) scale(1,1.04)" font-size="46" text-anchor="middle" class="t">0.996</text>
<line x1="658.6" y1="1426.2" x2="873.8" y2="1426.2" stroke="#FF0000" stroke-width="6"/>
<line x1="658.6" y1="1410.5" x2="658.6" y2="1441.5" stroke="#FF0000" stroke-width="5.5" stroke-linecap="round"/>
<line x1="873.8" y1="1410.5" x2="873.8" y2="1441.5" stroke="#FF0000" stroke-width="5.5" stroke-linecap="round"/>
<line x1="766.2" y1="1309.5" x2="766.2" y2="1393" stroke="#FF0000" stroke-width="3"/>
<polygon points="744.9,1391.4 787,1391.4 765.9,1424.2" fill="#FF0000" stroke="#FF0000" stroke-width="1" stroke-linejoin="round"/>
<polygon points="766,1290.1 785.5,1309.6 766,1329.1 746.5,1309.6" fill="#FF0000"/>
<text transform="translate(728.3,1302.9) scale(1,1.04)" font-size="45.4" class="tr" font-style="italic">405</text>
<text transform="translate(622.8,1415.2) scale(1,1.04)" font-size="45.4" class="tr" font-style="italic">0.623</text>
</svg>
</body></html>
